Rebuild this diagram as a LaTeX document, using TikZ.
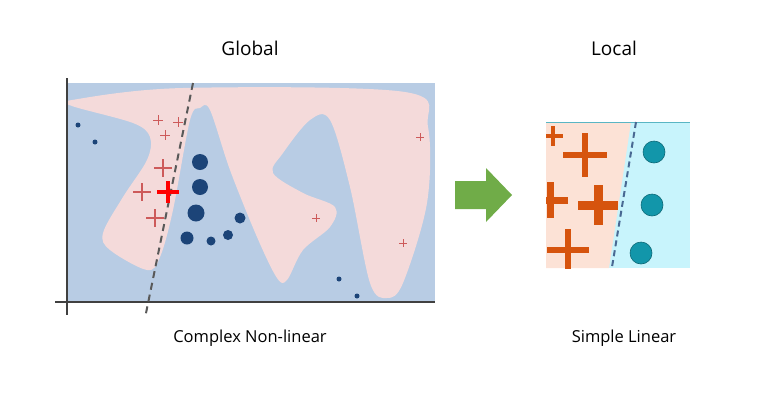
\documentclass[tikz,border=0pt]{standalone}
\usepackage{fontspec}
\setmainfont{Open Sans}
\definecolor{bgblue}{RGB}{184,204,228}
\definecolor{bgpink}{RGB}{244,218,218}
\definecolor{dotblue}{RGB}{28,68,120}
\definecolor{plusred}{RGB}{205,90,90}
\definecolor{lpink}{RGB}{252,226,214}
\definecolor{lcyan}{RGB}{200,244,252}
\definecolor{lteal}{RGB}{18,150,170}
\definecolor{lorange}{RGB}{214,84,14}
\definecolor{arrgreen}{RGB}{112,172,72}
\newcommand{\pmark}[5]{\draw[#5,line width=#4] (#1-#3,#2) -- (#1+#3,#2) (#1,#2-#3) -- (#1,#2+#3);}
\tikzset{title/.style={font=\fontsize{19}{22}\selectfont},
  caption/.style={font=\fontsize{16.5}{19}\selectfont}}
\begin{document}
\begin{tikzpicture}[x=1pt,y=-1pt]
    \useasboundingbox (0,0) rectangle (771,400);
    % Global panel
    \fill[bgblue] (67,83) rectangle (435,302);
    \begin{scope}
      \clip (67,83) rectangle (435,302);
      \fill[bgpink] plot[smooth cycle,tension=0.55] coordinates {
        (72,100) (183,88) (405,92) (428,127) (427,203) (403,283) (387,298)
        (370,283) (350,187) (330,120) (310,120) (283,153) (273,173) (303,193)
        (335,207) (330,227) (303,250) (287,280) (277,278) (257,237) (230,170)
        (210,110) (200,108) (190,120) (173,210) (160,257) (147,270) (110,250)
        (103,233) (123,197) (147,160) (150,137) (133,123) (72,106)};
    \end{scope}
    \draw[black!75,line width=1.2pt] (67,78) -- (67,315);
    \draw[black!75,line width=1.2pt] (55,302) -- (435,302);
    \draw[black!65,line width=2pt,dash pattern=on 7pt off 5pt] (193,83) -- (145,318);

    % points
    \foreach \x/\y in {158/120,178/122,165/135} \pmark{\x}{\y}{5}{0.9pt}{plusred};
    \foreach \x/\y in {163/168,142/192,155/218} \pmark{\x}{\y}{9}{1.2pt}{plusred};
    \pmark{168}{192}{11}{3.5pt}{red}
    \foreach \x/\y in {316/218,420/137,403/243} \pmark{\x}{\y}{4}{0.7pt}{plusred};
    \foreach \x/\y/\r in {200/162/8,200/187/8,196/213/8.5,187/238/6.5,211/241/4.5,228/235/5,240/218/5.5,
      78/125/2.5,95/142/2.5,339/279/2.5,357/296/2.5}
      \fill[dotblue] (\x,\y) circle (\r);

    % arrow
    \fill[arrgreen] (455,181) -- (486,181) -- (486,168) -- (512,195) -- (486,222)
      -- (486,209) -- (455,209) -- cycle;

    % Local panel
    \fill[lcyan] (546,122) rectangle (690,268);
    \fill[lpink] (546,122) -- (631,122) -- (609,268) -- (546,268) -- cycle;
    \draw[lteal!70,line width=1pt] (546,122) -- (690,122);
    \draw[dotblue!80,line width=2pt,dash pattern=on 6pt off 4pt] (636,122) -- (612,267);
    \begin{scope}
      \clip (546,122) rectangle (690,268);
      \pmark{553}{136}{10}{4.5pt}{lorange}
      \pmark{585}{155}{22}{6pt}{lorange}
      \pmark{550}{200}{18}{7pt}{lorange}
      \pmark{598}{205}{20}{9pt}{lorange}
      \pmark{568}{250}{21}{6pt}{lorange}
    \end{scope}
    \foreach \x/\y in {654/152,652/205,641/253}
      \filldraw[fill=lteal,draw=lteal!70!black,line width=0.6pt] (\x,\y) circle (11);

    % labels
    \node[title] (global) at (250,48) {Global};
    \node[title] (local) at (614,48) {Local};
    \node[caption] (complex) at (250,338) {Complex Non-linear};
    \node[caption] (simple) at (624,338) {Simple Linear};
\end{tikzpicture}
\end{document}
